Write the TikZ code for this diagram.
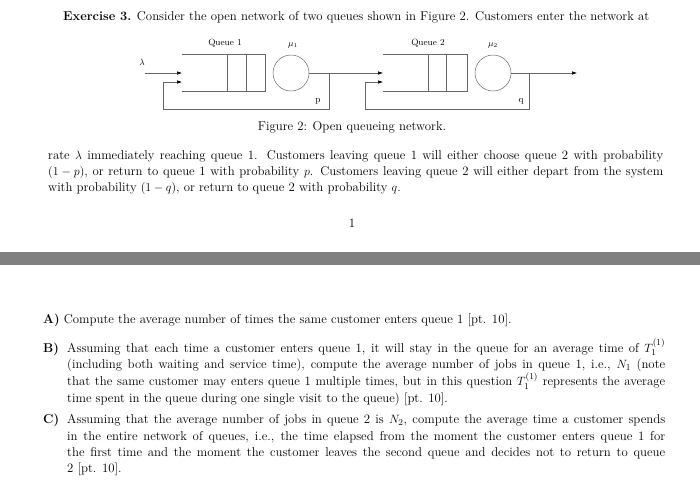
\documentclass[tikz,border=0pt]{standalone}
\usetikzlibrary{arrows.meta}
\newcommand{\itemlab}[1]{\makebox[0pt][r]{\makebox[24pt][l]{\textbf{#1}}}}
\begin{document}
\begin{tikzpicture}[x=1pt,y=-1pt,
  ln/.style={draw=black!60,line width=0.5pt},
  arr/.style={ln,-{Latex[length=5pt,width=3.5pt,black]}},
  body/.style={font=\fontsize{12.8}{16.2}\selectfont,inner sep=0pt,align=justify},
  small/.style={font=\fontsize{9}{10}\selectfont,inner sep=0pt}]
\useasboundingbox (0,0) rectangle (700,491);
% title
\node[body,anchor=west] (t) at (63,17) {\textbf{Exercise 3.} Consider the open network of two queues shown in Figure 2. Customers enter the network at};
% queue 1
\draw[ln] (265,54) -- (182,54) (182,91) -- (265,91) -- (265,54);
\draw[ln] (227,54) -- (227,91) (246,54) -- (246,91);
\node[ln,circle,minimum size=36pt,inner sep=0pt] (c1) at (291,73) {};
\coordinate (q1in) at (182,73);
\coordinate (q1fb) at (182,82);
\coordinate (lam) at (145,73);
\coordinate (b1) at (329,73);
% queue 2
\draw[ln] (467,54) -- (383,54) (383,91) -- (467,91) -- (467,54);
\draw[ln] (428,54) -- (428,91) (446,54) -- (446,91);
\node[ln,circle,minimum size=36pt,inner sep=0pt] (c2) at (493,73) {};
\coordinate (q2in) at (383,73);
\coordinate (q2fb) at (383,82);
\coordinate (b2) at (529,73);
\coordinate (out) at (577,73);
\draw[arr] (lam) -- (q1in);
\draw[arr] (c1.east) -- (q2in);
\draw[arr] (c2.east) -- (out);
\draw[arr] (b1) -- (329,109) -- (163,109) -- (163,82) -- (q1fb);
\draw[arr] (b2) -- (529,109) -- (365,109) -- (365,82) -- (q2fb);
\node[small] (l1) at (225,43) {Queue 1};
\node[small] (m1) at (293,45) {$\mu_1$};
\node[small] (l2) at (428,43) {Queue 2};
\node[small] (m2) at (493,45) {$\mu_2$};
\node[small] (la) at (142,62) {$\lambda$};
\node[small] (p) at (318,101) {p};
\node[small] (q) at (521,101) {q};
\node[body,anchor=center] (cap) at (352,127) {Figure 2: Open queueing network.};
\node[body,anchor=north west,text width=615] (par) at (48,150) {rate $\lambda$ immediately reaching queue 1. Customers leaving queue 1 will either choose queue 2 with probability\linebreak $(1-p)$, or return to queue 1 with probability $p$. Customers leaving queue 2 will either depart from the system\linebreak with probability $(1-q)$, or return to queue 2 with probability $q$.};
\node[body] (pg) at (352,223) {1};
\fill[black!50] (0,252) rectangle (700,265);
% items
\node[body,anchor=west] (A) at (43,320) {\textbf{A)} Compute the average number of times the same customer enters queue 1 [pt. 10].};
\node[body,anchor=north west,text width=598] (B) at (67,339) {\itemlab{B)}Assuming that each time a customer enters queue 1, it will stay in the queue for an average time of $T_1^{(1)}$\linebreak (including both waiting and service time), compute the average number of jobs in queue 1, i.e., $N_1$ (note\linebreak that the same customer may enters queue 1 multiple times, but in this question $T_1^{(1)}$ represents the average\linebreak time spent in the queue during one single visit to the queue) [pt. 10].};
\node[body,anchor=north west,text width=598] (C) at (67,414) {\itemlab{C)}Assuming that the average number of jobs in queue 2 is $N_2$, compute the average time a customer spends\linebreak in the entire network of queues, i.e., the time elapsed from the moment the customer enters queue 1 for\linebreak the first time and the moment the customer leaves the second queue and decides not to return to queue\linebreak 2 [pt. 10].};
\end{tikzpicture}
\end{document}
